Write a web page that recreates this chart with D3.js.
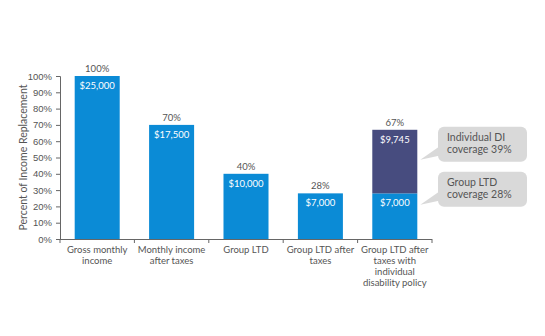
<!DOCTYPE html>
<html>
<head>
<meta charset="utf-8">
<script src="https://cdn.jsdelivr.net/npm/d3@7"></script>
<style>
  html, body { margin: 0; padding: 0; background: #fff; }
  svg { display: block; font-family: Lato, "Open Sans", sans-serif; }
</style>
</head>
<body>
<svg id="chart" width="545" height="336"></svg>
<script>
// Category labels (multi-line)
const categories = [
  ["Gross monthly", "income"],
  ["Monthly income", "after taxes"],
  ["Group LTD"],
  ["Group LTD after", "taxes"],
  ["Group LTD after", "taxes with", "individual", "disability policy"]
];
// Base segment (percent of gross income) and dollar amounts
const basePct = [100, 70, 40, 28, 28];
const baseAmt = ["$25,000", "$17,500", "$10,000", "$7,000", "$7,000"];
// Individual DI top-up segment (only on last bar)
const extraPct = [0, 0, 0, 0, 39];
const extraAmt = ["", "", "", "", "$9,745"];
// Total labels above the bars
const totalLabels = ["100%", "70%", "40%", "28%", "67%"];
const yTicks = [0, 10, 20, 30, 40, 50, 60, 70, 80, 90, 100];
const callouts = [
  ["Individual DI", "coverage 39%"],
  ["Group LTD", "coverage 28%"]
];

const svg = d3.select("#chart");
const plotLeft = 60, plotRight = 432, plotTop = 76, plotBottom = 239;
const textColor = "#555";
const lightBlue = "#0b8bd6";
const navy = "#474c7f";

const x = d3.scaleBand().domain(d3.range(categories.length)).range([plotLeft, plotRight])
  .paddingInner(0.395).paddingOuter(0.1975);
const y = d3.scaleLinear().domain([0, 100]).range([plotBottom, plotTop]);

// Y axis
const yAxis = svg.append("g").attr("transform", `translate(${plotLeft},0)`)
  .call(d3.axisLeft(y).tickValues(yTicks).tickFormat(d => d + "%").tickSize(4).tickSizeOuter(4));
yAxis.select(".domain").attr("stroke", "#666");
yAxis.selectAll(".tick line").attr("stroke", "#666");
yAxis.selectAll(".tick text").attr("fill", textColor).attr("font-size", 9.5)
  .attr("font-family", null).attr("dx", -1);

// Y axis title
svg.append("text")
  .attr("transform", `translate(27,${(plotTop + plotBottom) / 2}) rotate(-90)`)
  .attr("text-anchor", "middle")
  .attr("fill", textColor).attr("font-size", 10.5)
  .text("Percent of Income Replacement");

// X axis baseline with ticks between bands
svg.append("line").attr("x1", plotLeft).attr("x2", plotRight)
  .attr("y1", plotBottom + 0.5).attr("y2", plotBottom + 0.5)
  .attr("stroke", "#666");
const boundaries = d3.range(categories.length + 1)
  .map(i => plotLeft + i * (plotRight - plotLeft) / categories.length);
svg.selectAll(".xtick").data(boundaries).join("line")
  .attr("x1", d => d).attr("x2", d => d)
  .attr("y1", plotBottom).attr("y2", plotBottom + 4)
  .attr("stroke", "#666");

// Base bars
const bars = svg.append("g");
bars.selectAll("rect.base").data(basePct).join("rect")
  .attr("x", (d, i) => x(i)).attr("width", x.bandwidth())
  .attr("y", d => y(d)).attr("height", d => y(0) - y(d))
  .attr("fill", lightBlue);

// Stacked top segments
const extras = extraPct.map((d, i) => ({d, i})).filter(e => e.d > 0);
bars.selectAll("rect.extra").data(extras).join("rect")
  .attr("x", e => x(e.i)).attr("width", x.bandwidth())
  .attr("y", e => y(basePct[e.i] + e.d))
  .attr("height", e => y(basePct[e.i]) - y(basePct[e.i] + e.d))
  .attr("fill", navy);

// Dollar labels inside segments
svg.selectAll("text.base").data(baseAmt).join("text")
  .attr("x", (d, i) => x(i) + x.bandwidth() / 2)
  .attr("y", (d, i) => y(basePct[i]) + 13)
  .attr("text-anchor", "middle").attr("fill", "#fff").attr("font-size", 9.5)
  .text(d => d);
svg.selectAll("text.extra").data(extras).join("text")
  .attr("x", e => x(e.i) + x.bandwidth() / 2)
  .attr("y", e => y(basePct[e.i] + extraPct[e.i]) + 13)
  .attr("text-anchor", "middle").attr("fill", "#fff").attr("font-size", 9.5)
  .text(e => extraAmt[e.i]);

// Totals above bars
svg.selectAll("text.total").data(totalLabels).join("text")
  .attr("x", (d, i) => x(i) + x.bandwidth() / 2)
  .attr("y", (d, i) => y(basePct[i] + extraPct[i]) - 4)
  .attr("text-anchor", "middle").attr("fill", textColor).attr("font-size", 9.5)
  .text(d => d);

// Category labels, one text element per line
categories.forEach((lines, i) => {
  const cx = x(i) + x.bandwidth() / 2;
  lines.forEach((ln, k) => svg.append("text")
    .attr("x", cx).attr("y", plotBottom + 14 + k * 11)
    .attr("text-anchor", "middle").attr("fill", textColor).attr("font-size", 9.5)
    .text(ln));
});

// Callout bubbles pointing at the stacked segments
const last = categories.length - 1;
const barRight = x(last) + x.bandwidth();
const stackTop = y(basePct[last] + extraPct[last]);
const bx = 438, bw = 89, bh = 35, gap = 45;
callouts.forEach((lines, k) => {
  const by = stackTop - 3 + k * gap;
  const g = svg.append("g");
  g.append("rect").attr("x", bx).attr("y", by).attr("width", bw).attr("height", bh)
    .attr("rx", 6).attr("fill", "#d9d9d9");
  const tipX = barRight + 3, tipY = by + bh - 2;
  g.append("path")
    .attr("d", `M${bx + 1},${by + bh - 15} L${tipX},${tipY} L${bx + 1},${by + bh - 6} Z`)
    .attr("fill", "#d9d9d9");
  lines.forEach((ln, j) => g.append("text")
    .attr("x", bx + 9).attr("y", by + 14 + j * 12.5)
    .attr("fill", textColor).attr("font-size", 10.5)
    .text(ln));
});
</script>
</body>
</html>
